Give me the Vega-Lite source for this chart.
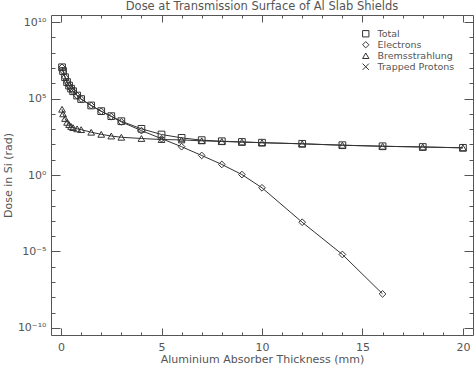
{
  "$schema": "https://vega.github.io/schema/vega-lite/v6.json",
  "width": 422,
  "height": 320,
  "autosize": "none",
  "padding": {"left": 51, "top": 15, "right": 1, "bottom": 34},
  "config": {
    "view": {"stroke": "#555", "strokeWidth": 1},
    "font": "DejaVu Sans",
    "axis": {"labelColor": "#555", "titleColor": "#555", "tickColor": "#555", "domain": false, "grid": false, "labelFont": "DejaVu Sans", "titleFont": "DejaVu Sans", "labelFontSize": 11, "titleFontSize": 11, "titleFontWeight": "normal"},
    "legend": {"labelColor": "#555", "labelFont": "DejaVu Sans", "labelFontSize": 9.5}
  },
  "title": {"text": "Dose at Transmission Surface of Al Slab Shields", "fontSize": 11.5, "fontWeight": "normal", "color": "#555", "font": "DejaVu Sans", "offset": 2, "anchor": "middle"},
  "data": {"values": [
    {"series": "Total", "x": 0.05, "y": 11200000},
    {"series": "Total", "x": 0.1, "y": 6310000},
    {"series": "Total", "x": 0.2, "y": 2510000},
    {"series": "Total", "x": 0.3, "y": 1200000},
    {"series": "Total", "x": 0.4, "y": 708000},
    {"series": "Total", "x": 0.5, "y": 447000},
    {"series": "Total", "x": 0.6, "y": 302000},
    {"series": "Total", "x": 0.8, "y": 158000},
    {"series": "Total", "x": 1.0, "y": 93300},
    {"series": "Total", "x": 1.5, "y": 35500},
    {"series": "Total", "x": 2.0, "y": 15100},
    {"series": "Total", "x": 2.5, "y": 7080},
    {"series": "Total", "x": 3.0, "y": 3310},
    {"series": "Total", "x": 4.0, "y": 1050},
    {"series": "Total", "x": 5.0, "y": 447},
    {"series": "Total", "x": 6.0, "y": 269},
    {"series": "Total", "x": 7.0, "y": 191},
    {"series": "Total", "x": 8.0, "y": 162},
    {"series": "Total", "x": 9.0, "y": 145},
    {"series": "Total", "x": 10.0, "y": 130},
    {"series": "Total", "x": 12.0, "y": 110},
    {"series": "Total", "x": 14.0, "y": 89},
    {"series": "Total", "x": 16.0, "y": 76},
    {"series": "Total", "x": 18.0, "y": 68},
    {"series": "Total", "x": 20.0, "y": 60},
    {"series": "Electrons", "x": 0.05, "y": 11100000},
    {"series": "Electrons", "x": 0.1, "y": 6300000},
    {"series": "Electrons", "x": 0.2, "y": 2500000},
    {"series": "Electrons", "x": 0.3, "y": 1200000},
    {"series": "Electrons", "x": 0.4, "y": 706000},
    {"series": "Electrons", "x": 0.5, "y": 445000},
    {"series": "Electrons", "x": 0.6, "y": 300000},
    {"series": "Electrons", "x": 0.8, "y": 157000},
    {"series": "Electrons", "x": 1.0, "y": 92400},
    {"series": "Electrons", "x": 1.5, "y": 34900},
    {"series": "Electrons", "x": 2.0, "y": 14600},
    {"series": "Electrons", "x": 2.5, "y": 6730},
    {"series": "Electrons", "x": 3.0, "y": 3000},
    {"series": "Electrons", "x": 4.0, "y": 800},
    {"series": "Electrons", "x": 5.0, "y": 238},
    {"series": "Electrons", "x": 6.0, "y": 71},
    {"series": "Electrons", "x": 7.0, "y": 19},
    {"series": "Electrons", "x": 8.0, "y": 4.9},
    {"series": "Electrons", "x": 9.0, "y": 1.07},
    {"series": "Electrons", "x": 10.0, "y": 0.145},
    {"series": "Electrons", "x": 12.0, "y": 0.00081},
    {"series": "Electrons", "x": 14.0, "y": 0.0000063},
    {"series": "Electrons", "x": 16.0, "y": 0.0000000166},
    {"series": "Bremsstrahlung", "x": 0.05, "y": 20000},
    {"series": "Bremsstrahlung", "x": 0.1, "y": 10000},
    {"series": "Bremsstrahlung", "x": 0.2, "y": 5000},
    {"series": "Bremsstrahlung", "x": 0.3, "y": 2800},
    {"series": "Bremsstrahlung", "x": 0.4, "y": 2000},
    {"series": "Bremsstrahlung", "x": 0.5, "y": 1500},
    {"series": "Bremsstrahlung", "x": 0.6, "y": 1260},
    {"series": "Bremsstrahlung", "x": 0.8, "y": 1050},
    {"series": "Bremsstrahlung", "x": 1.0, "y": 930},
    {"series": "Bremsstrahlung", "x": 1.5, "y": 630},
    {"series": "Bremsstrahlung", "x": 2.0, "y": 457},
    {"series": "Bremsstrahlung", "x": 2.5, "y": 355},
    {"series": "Bremsstrahlung", "x": 3.0, "y": 295},
    {"series": "Bremsstrahlung", "x": 4.0, "y": 245},
    {"series": "Bremsstrahlung", "x": 5.0, "y": 209},
    {"series": "Bremsstrahlung", "x": 6.0, "y": 198},
    {"series": "Bremsstrahlung", "x": 7.0, "y": 172},
    {"series": "Bremsstrahlung", "x": 8.0, "y": 157},
    {"series": "Bremsstrahlung", "x": 9.0, "y": 144},
    {"series": "Bremsstrahlung", "x": 10.0, "y": 130},
    {"series": "Bremsstrahlung", "x": 12.0, "y": 110},
    {"series": "Bremsstrahlung", "x": 14.0, "y": 89},
    {"series": "Bremsstrahlung", "x": 16.0, "y": 76},
    {"series": "Bremsstrahlung", "x": 18.0, "y": 68},
    {"series": "Bremsstrahlung", "x": 20.0, "y": 60}
  ]},
  "resolve": {"axis": {"x": "independent", "y": "independent"}},
  "layer": [
    {
      "mark": {"type": "line", "color": "#333", "strokeWidth": 1},
      "encoding": {
        "x": {"field": "x", "type": "quantitative",
          "scale": {"domain": [-0.5, 20.5], "nice": false, "zero": false},
          "axis": {"orient": "bottom", "title": "Aluminium Absorber Thickness (mm)", "titlePadding": 1,
            "values": [0,1,2,3,4,5,6,7,8,9,10,11,12,13,14,15,16,17,18,19,20],
            "tickSize": {"condition": {"test": "datum.value % 5 === 0", "value": -7}, "value": -3},
            "labelPadding": 13,
            "labelExpr": "datum.value % 5 === 0 ? datum.label : ''"}},
        "y": {"field": "y", "type": "quantitative",
          "scale": {"type": "log", "domain": [3.39e-11, 2.95e10], "nice": false},
          "axis": {"orient": "left", "title": "Dose in Si (rad)", "titlePadding": 4,
            "values": [1e-10,1e-9,1e-8,1e-7,1e-6,1e-5,1e-4,1e-3,1e-2,1e-1,1,10,100,1000,10000,100000,1e6,1e7,1e8,1e9,1e10],
            "tickSize": {"condition": {"test": "round(log(datum.value)/LN10) % 5 === 0", "value": -9}, "value": -4},
            "labelPadding": 14,
            "labelExpr": "datum.value == 1e10 ? '10¹⁰' : datum.value == 1e5 ? '10⁵' : datum.value == 1 ? '10⁰' : datum.value == 1e-5 ? '10⁻⁵' : datum.value == 1e-10 ? '10⁻¹⁰' : ''"}},
        "detail": {"field": "series"}
      }
    },
    {
      "mark": {"type": "point", "filled": false, "stroke": "#333", "strokeWidth": 1, "size": 45, "opacity": 1},
      "encoding": {
        "x": {"field": "x", "type": "quantitative",
          "axis": {"orient": "top", "title": null, "labels": false,
            "values": [0,1,2,3,4,5,6,7,8,9,10,11,12,13,14,15,16,17,18,19,20],
            "tickSize": {"condition": {"test": "datum.value % 5 === 0", "value": -7}, "value": -3}}},
        "y": {"field": "y", "type": "quantitative",
          "axis": {"orient": "right", "title": null, "labels": false,
            "values": [1e-10,1e-9,1e-8,1e-7,1e-6,1e-5,1e-4,1e-3,1e-2,1e-1,1,10,100,1000,10000,100000,1e6,1e7,1e8,1e9,1e10],
            "tickSize": {"condition": {"test": "round(log(datum.value)/LN10) % 5 === 0", "value": -9}, "value": -4}}},
        "shape": {"field": "series", "type": "nominal",
          "scale": {"domain": ["Total", "Electrons", "Bremsstrahlung", "Trapped Protons"],
                    "range": ["square", "diamond", "triangle-up", "M-1,-1L1,1M-1,1L1,-1"]},
          "legend": {"orient": "none", "legendX": 310, "legendY": 14, "title": null,
            "symbolStrokeColor": "#333", "symbolFillColor": "transparent", "symbolSize": 40, "symbolStrokeWidth": 1,
            "rowPadding": 0, "labelOffset": 7}}
      }
    }
  ]
}
